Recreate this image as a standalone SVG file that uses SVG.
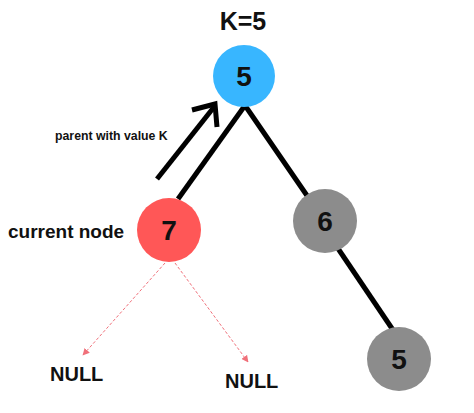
<svg xmlns="http://www.w3.org/2000/svg" width="474" height="413" viewBox="0 0 474 413">
<style>
text{font-family:"Liberation Sans",Arial,sans-serif;font-weight:bold;fill:#111}
.edge{stroke:#000;stroke-width:5;fill:none;stroke-linecap:butt}
.null{stroke:#f0707a;stroke-width:1;stroke-dasharray:3 2;fill:none}
.num{font-size:28px;text-anchor:middle}
</style>
<defs>
<marker id="ah" viewBox="0 0 10 10" refX="9" refY="5" markerWidth="7" markerHeight="7" orient="auto" markerUnits="userSpaceOnUse">
<path d="M0,0 L10,5 L0,10 z" fill="#f0707a"/>
</marker>
</defs>
<rect width="474" height="413" fill="#fff"/>
<text x="243" y="30" font-size="25" text-anchor="middle">K=5</text>
<g id="connectors">
<line class="edge" x1="178" y1="199" x2="246" y2="104"/>
<line class="edge" x1="244" y1="104" x2="308" y2="197"/>
<line class="edge" x1="337" y1="247" x2="393" y2="330"/>
<line class="edge" x1="157" y1="179" x2="214" y2="107"/>
<polyline class="edge" points="192,110 215,104 217,127"/>
<line class="null" x1="165" y1="263" x2="83" y2="355" marker-end="url(#ah)"/>
<line class="null" x1="175" y1="263" x2="248" y2="362" marker-end="url(#ah)"/>
</g>
<g id="n-root">
<circle cx="244" cy="76" r="31" fill="#38b6ff"/>
<text class="num" x="244" y="86">5</text>
</g>
<g id="n-7">
<circle cx="169" cy="230" r="32" fill="#ff5757"/>
<text class="num" x="169" y="240">7</text>
</g>
<g id="n-6">
<circle cx="325" cy="221" r="32" fill="#8c8c8c"/>
<text class="num" x="325" y="231">6</text>
</g>
<g id="n-5b">
<circle cx="399" cy="359" r="32" fill="#8c8c8c"/>
<text class="num" x="399" y="369">5</text>
</g>
<text x="55" y="140" font-size="12.3">parent with value K</text>
<text x="8" y="238" font-size="19">current node</text>
<text x="50" y="381" font-size="20">NULL</text>
<text x="225" y="388" font-size="20">NULL</text>
</svg>
